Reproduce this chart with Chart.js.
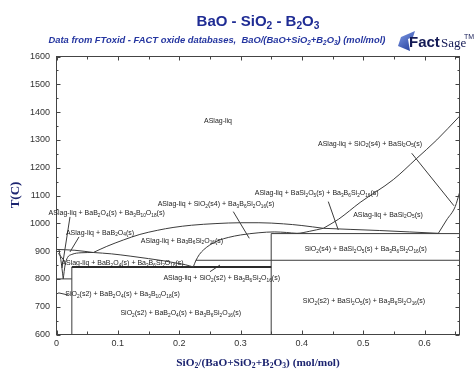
<!DOCTYPE html>
<html><head><meta charset="utf-8">
<script src="https://cdn.jsdelivr.net/npm/chart.js@4.4.0/dist/chart.umd.min.js"></script>
<style>html,body{margin:0;padding:0;background:#fff;}#wrap{position:relative;width:474px;height:373px;}</style>
</head><body><div id="wrap"><canvas id="c"></canvas></div>
<script>
// ---- axis ticks ----
const xTickValues = [0, 0.1, 0.2, 0.3, 0.4, 0.5, 0.6];
const xTickLabels = ['0', '0.1', '0.2', '0.3', '0.4', '0.5', '0.6'];
const yTickValues = [600, 700, 800, 900, 1000, 1100, 1200, 1300, 1400, 1500, 1600];
const yTickLabels = ['600', '700', '800', '900', '1000', '1100', '1200', '1300', '1400', '1500', '1600'];

// ---- phase boundaries: [SiO2 mole fraction, T(C)] ----
const liqBa3B6Si2O16 = [[0.06,895],[0.082,917],[0.109,940],[0.136,960],[0.165,975],[0.19,985],[0.22,993],[0.26,999],[0.3,1002],[0.33,1002],[0.37,998],[0.4,992],[0.435,982]];
const liqBaB2O4Ba3B6 = [[0.06,895],[0.09,890],[0.12,882],[0.15,873],[0.175,865],[0.195,857],[0.21,851],[0.223,843]];
const liqSiO2Ba3B6 = [[0.223,843],[0.227,865],[0.233,888],[0.24,905],[0.25,922],[0.265,939],[0.28,949],[0.3,958],[0.33,966],[0.355,969],[0.375,967],[0.392,964],[0.412,971],[0.435,982]];
const liqBaSi2O5 = [[0.435,982],[0.48,978],[0.527,974],[0.575,969],[0.6225,964]];
const liqSiO2Right = [[0.6225,964],[0.636,1012],[0.65,1060],[0.657,1110]];
const liqSiO2Rising = [[0.435,982],[0.46,1015],[0.495,1075],[0.549,1157],[0.587,1233],[0.62,1300],[0.657,1385]];
const liqBaB2O4 = [[0,906],[0.03,903],[0.06,895]];
const vLeft = [[0.004,905],[0.007,870],[0.011,800]];
const vRight = [[0.011,800],[0.014,850],[0.018,877],[0.025,888],[0.04,894],[0.06,895]];
const iso800 = [[0,800],[0.025,800]];
const iso843 = [[0.025,843],[0.35,843]];
const iso867 = [[0.227,867],[0.657,867]];
const iso963 = [[0.35,963],[0.657,963]];
const vert025 = [[0.025,600],[0.025,843]];
const vert035 = [[0.35,600],[0.35,963]];

// ---- label leader lines ----
const leader1 = [[0.5791,1252],[0.648,1063]];
const leader2 = [[0.4431,1078],[0.4594,976]];
const leader3 = [[0.2882,1042],[0.3143,946]];
const leader4 = [[0.2503,826],[0.2666,850]];
const leader5 = [[0.022,1023],[0.009,839]];
const leader6 = [[0.0367,951],[0.022,897]];
const leader7 = [[0.003,892],[0.0139,862]];
const leader8 = [[0.003,750],[0.0192,742]];

// ---- region labels ("_n" = subscript) ----
const regionTexts = [
 'ASlag-liq',
 'ASlag-liq + SiO_2(s4) + BaSi_2O_5(s)',
 'ASlag-liq + BaSi_2O_5(s) + Ba_3B_6Si_2O_16(s)',
 'ASlag-liq + BaSi_2O_5(s)',
 'ASlag-liq + SiO_2(s4) + Ba_3B_6Si_2O_16(s)',
 'ASlag-liq + BaB_2O_4(s) + Ba_3B_10O_18(s)',
 'ASlag-liq + BaB_2O_4(s)',
 'ASlag-liq + Ba_3B_6Si_2O_16(s)',
 'ASlag-liq + BaB_2O_4(s) + Ba_3B_6Si_2O_16(s)',
 'ASlag-liq + SiO_2(s2) + Ba_3B_6Si_2O_16(s)',
 'SiO_2(s2) + BaB_2O_4(s) + Ba_3B_10O_18(s)',
 'SiO_2(s2) + BaB_2O_4(s) + Ba_3B_6Si_2O_16(s)',
 'SiO_2(s4) + BaSi_2O_5(s) + Ba_3B_6Si_2O_16(s)',
 'SiO_2(s2) + BaSi_2O_5(s) + Ba_3B_6Si_2O_16(s)'
];
const regionX = [0.2633,0.5111,0.4242,0.5404,0.260,0.0818,0.0709,0.2046,0.1076,0.2693,0.1076,0.2026,0.5042,0.5013];
const regionT = [1368,1285,1108,1030,1069,1036,966,937,856,802,745,676,906,720];

const LINE = '#3c3c3c';
function ds(pts, opt) {
  return Object.assign({
    data: pts.map(p => ({x: p[0], y: p[1]})),
    showLine: true, pointRadius: 0, borderColor: LINE, borderWidth: 1,
    cubicInterpolationMode: 'monotone', fill: false
  }, opt || {});
}
const straight = {cubicInterpolationMode: 'default', tension: 0};
const datasets = [
  ds(liqBa3B6Si2O16), ds(liqBaB2O4Ba3B6), ds(liqSiO2Ba3B6), ds(liqBaSi2O5), ds(liqSiO2Right),
  ds(liqSiO2Rising), ds(liqBaB2O4), ds(vLeft), ds(vRight),
  ds(iso800, straight), ds(iso843, Object.assign({borderWidth: 2, borderColor: '#2a2a2a'}, straight)),
  ds(iso867, straight), ds(iso963, straight), ds(vert025, straight), ds(vert035, straight),
  ds(leader1, straight), ds(leader2, straight), ds(leader3, straight), ds(leader4, straight),
  ds(leader5, straight), ds(leader6, straight), ds(leader7, straight), ds(leader8, straight)
];

function segs(str) {
  const out = []; const re = /_(\d+)/g; let last = 0, m;
  while ((m = re.exec(str))) {
    if (m.index > last) out.push({t: str.slice(last, m.index), sub: false});
    out.push({t: m[1], sub: true}); last = re.lastIndex;
  }
  if (last < str.length) out.push({t: str.slice(last), sub: false});
  return out;
}
function rich(ctx, str, x, y, size, style, family, color, align) {
  const parts = segs(str);
  const subSize = size * 0.68;
  const f = s => style + ' ' + s + 'px ' + family;
  let w = 0;
  parts.forEach(p => { ctx.font = f(p.sub ? subSize : size); p.w = ctx.measureText(p.t).width; w += p.w; });
  let cx = align === 'left' ? x : x - w / 2;
  ctx.fillStyle = color; ctx.textBaseline = 'middle'; ctx.textAlign = 'left';
  parts.forEach(p => {
    ctx.font = f(p.sub ? subSize : size);
    ctx.fillText(p.t, cx, p.sub ? y + size * 0.3 : y);
    cx += p.w;
  });
  return w;
}

const decor = {
  id: 'decor',
  afterDraw(chart) {
    const ctx = chart.ctx, a = chart.chartArea, xs = chart.scales.x, ys = chart.scales.y;
    ctx.save();
    // frame
    ctx.strokeStyle = '#444'; ctx.lineWidth = 1;
    ctx.strokeRect(a.left, a.top, a.right - a.left, a.bottom - a.top);
    // inward ticks
    ctx.beginPath();
    for (let i = 0; i <= 13; i++) {
      const v = i * 0.05; const px = Math.round(xs.getPixelForValue(v)) + 0.5;
      if (px > a.right - 1) continue;
      const L = i % 2 === 0 ? 4 : 3;
      ctx.moveTo(px, a.bottom); ctx.lineTo(px, a.bottom - L);
      ctx.moveTo(px, a.top); ctx.lineTo(px, a.top + L);
    }
    for (let v = 600; v <= 1600; v += 50) {
      const py = Math.round(ys.getPixelForValue(v)) + 0.5;
      const L = v % 100 === 0 ? 4 : 2;
      ctx.moveTo(a.left, py); ctx.lineTo(a.left + L, py);
      ctx.moveTo(a.right, py); ctx.lineTo(a.right - L, py);
    }
    ctx.stroke();
    // region labels
    regionTexts.forEach((t, i) => {
      rich(ctx, t, xs.getPixelForValue(regionX[i]), ys.getPixelForValue(regionT[i]), 7, 'normal', 'Arial, "Liberation Sans"', '#222', 'center');
    });
    // titles
    rich(ctx, 'BaO - SiO_2 - B_2O_3', 258, 22, 15, 'bold', 'Arial, "Liberation Sans"', '#1f2c94', 'center');
    rich(ctx, 'Data from FToxid - FACT oxide databases,  BaO/(BaO+SiO_2+B_2O_3) (mol/mol)', 48.5, 40, 9.4, 'italic bold', 'Arial, "Liberation Sans"', '#2536a0', 'left');
    rich(ctx, 'SiO_2/(BaO+SiO_2+B_2O_3) (mol/mol)', 258, 363, 11.3, 'bold', '"Times New Roman", "Liberation Serif"', '#1c2470', 'center');
    ctx.save(); ctx.translate(16, 195); ctx.rotate(-Math.PI / 2);
    rich(ctx, 'T(C)', 0, 0, 13, 'bold', '"Times New Roman", "Liberation Serif"', '#1c2470', 'center');
    ctx.restore();
    // FactSage logo
    const g = ctx.createLinearGradient(398, 32, 414, 52);
    g.addColorStop(0, '#7f9be6'); g.addColorStop(1, '#1d3796');
    ctx.fillStyle = g; ctx.beginPath();
    ctx.moveTo(401, 37); ctx.lineTo(415, 31); ctx.lineTo(413, 37); ctx.lineTo(408, 39);
    ctx.lineTo(410, 51); ctx.lineTo(398, 46); ctx.closePath(); ctx.fill();
    ctx.fillStyle = '#141a55'; ctx.textBaseline = 'alphabetic'; ctx.textAlign = 'left';
    ctx.font = 'bold 15px Arial, "Liberation Sans"'; ctx.fillText('Fact', 409, 47);
    ctx.font = '13px "Times New Roman", "Liberation Serif"'; ctx.fillText('Sage', 441, 47);
    ctx.font = '7px Arial, "Liberation Sans"'; ctx.fillText('TM', 464, 39);
    ctx.restore();
  }
};

new Chart(document.getElementById('c'), {
  type: 'scatter',
  data: {datasets},
  options: {
    responsive: true, maintainAspectRatio: false, animation: false,
    devicePixelRatio: 1,
    layout: {padding: {top: 56.5, right: 14.5, left: 0, bottom: 0}},
    plugins: {legend: {display: false}, tooltip: {enabled: false}, title: {display: false}},
    scales: {
      x: {
        type: 'linear', min: 0, max: 0.657,
        grid: {display: false, drawTicks: false}, border: {display: false},
        afterBuildTicks: s => { s.ticks = xTickValues.map(v => ({value: v})); },
        afterFit: s => { s.height = 38.5; },
        ticks: {padding: 4, autoSkip: false, maxRotation: 0, color: '#333',
          font: {family: 'Arial, "Liberation Sans"', size: 9},
          callback: (v, i) => xTickLabels[i]}
      },
      y: {
        type: 'linear', min: 600, max: 1600,
        grid: {display: false, drawTicks: false}, border: {display: false},
        afterBuildTicks: s => { s.ticks = yTickValues.map(v => ({value: v})); },
        afterFit: s => { s.width = 56.5; },
        ticks: {padding: 6.5, autoSkip: false, color: '#333',
          font: {family: 'Arial, "Liberation Sans"', size: 9},
          callback: (v, i) => yTickLabels[i]}
      }
    }
  },
  plugins: [decor]
});
</script></body></html>
